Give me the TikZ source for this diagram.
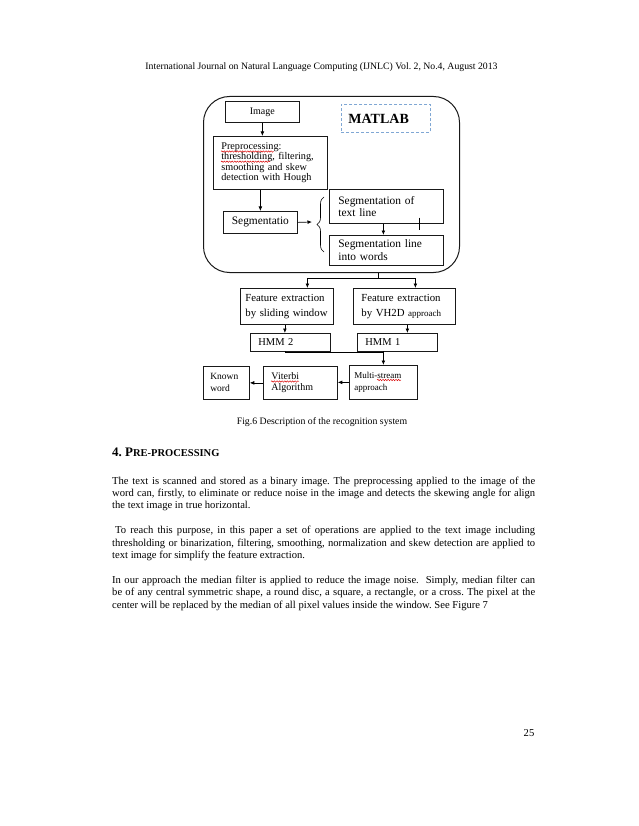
\documentclass[tikz,border=0pt]{standalone}
\usepackage{fontspec}
\setmainfont{Liberation Serif}
\usetikzlibrary{arrows.meta,decorations.pathreplacing,decorations.pathmorphing}
\definecolor{dashblue}{HTML}{7FA7D4}
\frenchspacing
\begin{document}
\begin{tikzpicture}[x=1pt,y=-1pt,
  bx/.style={draw=black!90, line width=0.75pt, anchor=north west, inner ysep=0pt, align=left},
  arr/.style={-{Latex[length=4.5pt,width=3.8pt]}, line width=0.7pt},
  ln/.style={line width=0.7pt},
  wavy/.style={red!85!black, line width=0.45pt, decorate, decoration={snake, amplitude=0.7pt, segment length=2.6pt}},
  body/.style={anchor=base west, inner sep=0pt, font=\fontsize{10.6}{12.4}\selectfont}]
\fill[white] (0,0) rectangle (638,826);
\useasboundingbox (0,0) rectangle (638,826);

% header
\node[anchor=base, inner sep=0pt, font=\fontsize{9.75}{11}\selectfont] (hdr) at (321.5,70)
  {International Journal on Natural Language Computing (IJNLC) Vol. 2, No.4, August 2013};

% ---------- diagram ----------
\node[draw=black!90, line width=1pt, rounded corners=26pt, anchor=north west,
      minimum width=256pt, minimum height=176pt, inner sep=0pt] (sys) at (203,96) {};

\node[bx, minimum width=74pt, minimum height=21pt, text width=70pt, inner xsep=2pt,
      align=center, font=\fontsize{10}{11}\selectfont] (img) at (225,101) {Image};

\node[bx, draw=dashblue, dash pattern=on 3pt off 2pt, line width=0.9pt, minimum width=89pt,
      minimum height=28pt, text width=75pt, inner xsep=7pt,
      font=\fontsize{14}{16}\selectfont\bfseries] (mat) at (341,104) {MATLAB};

\node[bx, minimum width=114pt, minimum height=53pt, text width=98pt, inner xsep=8pt,
      font=\fontsize{10.2}{10.4}\selectfont] (pre) at (213,136)
      {Preprocessing:\\thresholding, filtering,\\smoothing and skew\\detection with Hough};

\node[bx, minimum width=74pt, minimum height=22pt, text width=72pt, inner xsep=1pt,
      align=center, font=\fontsize{11.4}{13}\selectfont] (seg) at (223,211) {Segmentatio};

\node[bx, minimum width=114pt, minimum height=34pt, text width=96pt, inner xsep=9pt,
      font=\fontsize{11.4}{12}\selectfont] (st1) at (329,189) {Segmentation of\\text line};
\node[bx, minimum width=114pt, minimum height=30pt, text width=96pt, inner xsep=9pt,
      font=\fontsize{11.4}{13}\selectfont] (st2) at (329,235) {Segmentation line\\into words};

\node[bx, minimum width=93pt, minimum height=36pt, text width=83pt, inner xsep=5pt,
      font=\fontsize{10.8}{15}\selectfont] (fe1) at (240,288) {Feature extraction\\by sliding window};
\node[bx, minimum width=102pt, minimum height=36pt, text width=86pt, inner xsep=8pt,
      font=\fontsize{10.8}{15}\selectfont] (fe2) at (353,288)
      {Feature extraction\\by VH2D {\fontsize{9}{9}\selectfont approach}};

\node[bx, minimum width=80pt, minimum height=17.5pt, text width=64pt, inner xsep=8pt,
      font=\fontsize{10.5}{12}\selectfont] (hmm2) at (250,333) {HMM 2};
\node[bx, minimum width=80pt, minimum height=17.5pt, text width=64pt, inner xsep=8pt,
      font=\fontsize{10.5}{12}\selectfont] (hmm1) at (357,333) {HMM 1};

\node[bx, minimum width=68pt, minimum height=34pt, text width=58pt, inner xsep=5pt,
      font=\fontsize{9}{12.5}\selectfont] (ms) at (349,365) {Multi-stream\\approach};
\node[bx, minimum width=74pt, minimum height=33pt, text width=58pt, inner xsep=8pt,
      font=\fontsize{10}{11}\selectfont] (vit) at (263,366) {Viterbi\\Algorithm};
\node[bx, minimum width=46pt, minimum height=33pt, text width=32pt, inner xsep=7pt,
      font=\fontsize{9.5}{12}\selectfont] (kw) at (203,366) {Known\\word};

% spell-check wavy marks
\draw[wavy] (221,151.5) -- (274,151.5);
\draw[wavy] (221,161.7) -- (270,161.7);
\draw[wavy] (271,381.5) -- (299,381.5);
\draw[wavy] (377,380) -- (401,380);

% connectors
\draw[arr] (img.south) -- (img.south |- pre.north);
\draw[arr] (seg.north |- pre.south) -- (seg.north);
\coordinate (bt) at (312,222);
\draw[arr] (seg.east) -- (bt);
\draw[line width=0.6pt, decorate, decoration={brace, amplitude=7pt, aspect=0.5}] (324,252) -- (324,197);
\draw[arr] ([xshift=-3pt]st1.south) -- ([xshift=-3pt]st2.north);
\draw[line width=1.1pt] ([xshift=33pt,yshift=6pt]st1.south) -- ++(0,12);

\coordinate (sp) at (378,278);
\draw[ln] (sp |- sys.south) -- (sp);
\draw[arr] (sp) -| ([xshift=20.5pt]fe1.north);
\draw[arr] (sp) -| ([xshift=11pt]fe2.north);

\draw[arr] ([xshift=-2pt]fe1.south) -- ([xshift=-2pt]fe1.south |- hmm2.north);
\draw[arr] ([xshift=3pt]fe2.south) -- ([xshift=3pt]fe2.south |- hmm1.north);

\coordinate (jn) at (383,352.5);
\draw[ln] ([xshift=-5pt]hmm2.south) |- (ms.north |- jn);
\draw[arr] (ms.north |- hmm1.south) -- (ms.north);
\draw[arr] (ms.west) -- (ms.west -| vit.east);
\draw[arr] (vit.west) -- (vit.west -| kw.east);

% caption
\node[anchor=base, inner sep=0pt, font=\fontsize{9.8}{11}\selectfont] (cap) at (322,424.7)
  {Fig.6 Description of the recognition system};

% heading
\node[anchor=base west, inner sep=0pt, font=\bfseries] (hd) at (112,456)
  {\fontsize{13}{15}\selectfont 4. P\fontsize{10.5}{12}\selectfont RE-PROCESSING};

% body text
\node[body] (l1) at (112,484) {\hbox to 423pt{The text is scanned and stored as a binary image. The preprocessing applied to the image of the}};
\node[body] (l2) at (112,496.4) {\hbox to 423pt{word can, firstly, to eliminate or reduce noise in the image and detects the skewing angle for align}};
\node[body] (l3) at (112,508.8) {the text image in true horizontal.};
\node[body] (l4) at (112,533.6) {\hbox to 423pt{\kern3pt To reach this purpose, in this paper a set of operations are applied to the text image including}};
\node[body] (l5) at (112,546) {\hbox to 423pt{thresholding or binarization, filtering, smoothing, normalization and skew detection are applied to}};
\node[body] (l6) at (112,558.4) {text image for simplify the feature extraction.};
\node[body] (l7) at (112,583.2) {\hbox to 423pt{In our approach the median filter is applied to reduce the image noise.\ \ Simply, median filter can}};
\node[body] (l8) at (112,595.6) {\hbox to 423pt{be of any central symmetric shape, a round disc, a square, a rectangle, or a cross. The pixel at the}};
\node[body] (l9) at (112,608) {center will be replaced by the median of all pixel values inside the window. See Figure 7};

% page number
\node[anchor=base, inner sep=0pt, font=\fontsize{10.6}{12}\selectfont] (pg) at (529,736.5) {25};
\end{tikzpicture}
\end{document}
